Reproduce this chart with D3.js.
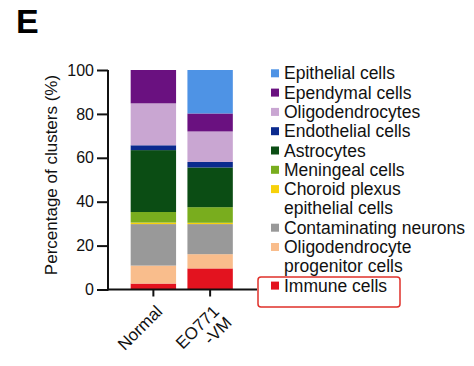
<!DOCTYPE html>
<html><head><meta charset="utf-8">
<script src="https://cdn.jsdelivr.net/npm/d3@7"></script>
<style>body{margin:0;background:#fff}svg{display:block}text{font-family:"Liberation Sans",Arial,sans-serif}</style>
</head><body><svg id="c" width="474" height="366"></svg>
<script>
const groups = ["Normal", "EO771-VM"];
const groupLabels = [["Normal"], ["EO771", "-VM"]];
const cellTypes = ["Immune cells","Oligodendrocyte progenitor cells","Contaminating neurons","Choroid plexus epithelial cells","Meningeal cells","Astrocytes","Endothelial cells","Oligodendrocytes","Ependymal cells","Epithelial cells"];
const normalValues = [2.7, 8.2, 18.9, 0.7, 4.8, 28.2, 2.2, 19.1, 15.2, 0];
const eo771Values  = [9.6, 6.5, 13.7, 0.6, 7.1, 18.1, 2.5, 13.9, 8.2, 19.8];
const colors = ["#e3131f","#f9bd8c","#999999","#f7d10a","#79ad1e","#0b4d14","#0b2a8e","#c9a6d2","#6a1180","#4e93e5"];
const yTicks = [0,20,40,60,80,100];
const legendOrder = [
  {type:"Epithelial cells", lines:["Epithelial cells"]},
  {type:"Ependymal cells", lines:["Ependymal cells"]},
  {type:"Oligodendrocytes", lines:["Oligodendrocytes"]},
  {type:"Endothelial cells", lines:["Endothelial cells"]},
  {type:"Astrocytes", lines:["Astrocytes"]},
  {type:"Meningeal cells", lines:["Meningeal cells"]},
  {type:"Choroid plexus epithelial cells", lines:["Choroid plexus","epithelial cells"]},
  {type:"Contaminating neurons", lines:["Contaminating neurons"]},
  {type:"Oligodendrocyte progenitor cells", lines:["Oligodendrocyte","progenitor cells"]},
  {type:"Immune cells", lines:["Immune cells"]}
];

const svg = d3.select("#c");
const y = d3.scaleLinear().domain([0,100]).range([289.5,70]);
const x = d3.scaleBand().domain(groups).range([125,238.5]).paddingInner(0.2).paddingOuter(0.1);
const color = d3.scaleOrdinal().domain(cellTypes).range(colors);

const rows = groups.map((g,i)=>{
  const o = {group:g};
  const vals = i===0 ? normalValues : eo771Values;
  cellTypes.forEach((c,j)=>o[c]=vals[j]);
  return o;
});
const series = d3.stack().keys(cellTypes)(rows);

svg.append("g").selectAll("g").data(series).join("g")
  .attr("fill", d=>color(d.key))
  .selectAll("rect").data(d=>d).join("rect")
  .attr("x", d=>x(d.data.group))
  .attr("width", x.bandwidth())
  .attr("y", d=>y(d[1]))
  .attr("height", d=>Math.max(0, y(d[0])-y(d[1])));

// y axis
const yAxis = svg.append("g").attr("transform","translate(108,0)")
  .call(d3.axisLeft(y).tickValues(yTicks).tickSize(11).tickPadding(3));
yAxis.select(".domain").attr("stroke","#111").attr("stroke-width",2).attr("d","M0,"+y(100)+"V"+(y(0)+1));
yAxis.selectAll(".tick line").attr("stroke","#111").attr("stroke-width",2);
yAxis.selectAll(".tick text").attr("font-size",16).attr("fill","#111").attr("font-family","Liberation Sans, Arial, sans-serif");

// x axis
const xAxis = svg.append("g").attr("transform","translate(0,"+y(0)+")")
  .call(d3.axisBottom(x).tickSize(7).tickFormat(""));
xAxis.select(".domain").attr("stroke","#111").attr("stroke-width",2).attr("d","M107,0H257");
xAxis.selectAll(".tick line").attr("stroke","#111").attr("stroke-width",2);

// x labels
groups.forEach((g,i)=>{
  const cx = x(g)+x.bandwidth()/2;
  const t = svg.append("text").attr("font-size",17).attr("fill","#111")
    .attr("text-anchor","end")
    .attr("transform","translate("+(cx+10)+","+(y(0)+23)+") rotate(-45)");
  groupLabels[i].forEach((l,k)=>{
    t.append("tspan").attr("x", k===0?0:1).attr("dy", k===0?0:17).text(l);
  });
});

// y title
svg.append("text").attr("font-size",17).attr("fill","#111").attr("text-anchor","middle")
  .attr("transform","translate(57,175) rotate(-90)").text("Percentage of clusters (%)");

// panel letter
svg.append("text").attr("x",16).attr("y",33).attr("font-size",34).attr("font-weight","bold").attr("fill","#000").text("E");

// legend
let line = 0;
const lg = svg.append("g");
legendOrder.forEach(item=>{
  const cy = 73.3 + line*19.3;
  lg.append("rect").attr("x",271).attr("y",cy-4).attr("width",8).attr("height",8).attr("fill",color(item.type));
  item.lines.forEach((l,k)=>{
    lg.append("text").attr("x",284).attr("y",cy + k*19.3 + 6).attr("font-size",17.5).attr("fill","#111").text(l);
  });
  line += item.lines.length;
});

// highlight box
svg.append("rect").attr("x",258).attr("y",277).attr("width",142).attr("height",30).attr("rx",3)
  .attr("fill","none").attr("stroke","#e0302a").attr("stroke-width",1.5);
</script></body></html>
